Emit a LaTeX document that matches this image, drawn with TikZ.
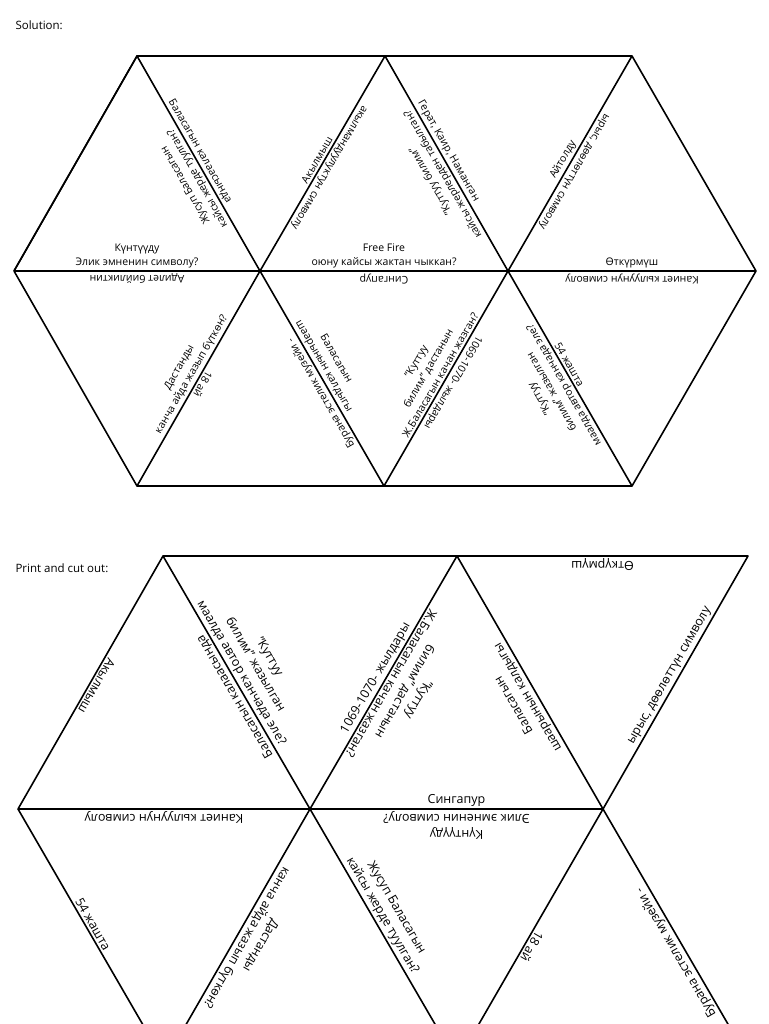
\documentclass[tikz,border=0pt]{standalone}
\usepackage{fontspec}
\setmainfont{Open Sans}
\newcommand\ftop{\fontsize{10.5}{14}\selectfont}
\newcommand\fbot{\fontsize{12.5}{16}\selectfont}
\begin{document}
\begin{tikzpicture}[x=1pt,y=1pt,
  edge/.style={line width=1.6pt, line join=round},
  lab/.style={sloped, allow upside down, above, inner sep=2.5pt, align=center},
  lt/.style={lab, font=\ftop},
  lb/.style={lab, font=\fbot},
  head/.style={anchor=west, font=\fontsize{11.5}{14}\selectfont}]
\useasboundingbox (0,-1024) rectangle (768,0);
\node[head] (h1) at (12,-25) {Solution:};
\node[head] (h2) at (12,-568) {Print and cut out:};
% ---------- top hexagon ----------
\coordinate (a1) at (137,-56); \coordinate (a2) at (385,-56); \coordinate (a3) at (632,-56);
\coordinate (m0) at (14,-271); \coordinate (m1) at (260,-271); \coordinate (m2) at (508,-271); \coordinate (m3) at (756,-271);
\coordinate (b1) at (137,-486); \coordinate (b2) at (384,-486); \coordinate (b3) at (632,-486);
\draw[edge] (a1) -- (a3) -- (m3) -- (b3) -- (b1) -- (m0) -- cycle;
\draw[edge] (m0) -- (m3);
\draw[edge] (m0) -- (a1) -- (m1) -- (a2) -- (m2) -- (a3);
\draw[edge] (b1) -- (m1) -- (b2) -- (m2) -- (b3);
% U1
\path (m0) -- (m1) node[lt, pos=0.5] {Күнтүүду\\Элик эмненин символу?};
\path (m1) -- (a1) node[lt, pos=0.45] {Жусуп Баласагын\\кайсы жерде туулган?};
% D1
\path (a1) -- (m1) node[lt, pos=0.46] {Баласагын калаасында};
\path (m1) -- (a2) node[lt, pos=0.5] {Акылмыш};
% U2
\path (m1) -- (m2) node[lt, pos=0.5] {Free Fire\\оюну кайсы жактан чыккан?};
\path (a2) -- (m1) node[lt, pos=0.5] {акылмандуулуктун символу};
\path (m2) -- (a2) node[lt, pos=0.47] {"Куттуу билим"\\кайсы жерлерден табылган?};
% D2
\path (a2) -- (m2) node[lt, pos=0.46] {Герат, Каир, Наманган};
\path (m2) -- (a3) node[lt, pos=0.5] {Айтолду};
% U3
\path (m2) -- (m3) node[lt, pos=0.5] {Өткүрмүш};
\path (a3) -- (m2) node[lt, pos=0.52] {ырыс, дөөлөттүн символу};
% L1
\path (m1) -- (m0) node[lt, pos=0.5] {Адилет бийликтин};
\path (b1) -- (m1) node[lt, pos=0.5] {Дастанды\\канча айда жазып бүткөн?};
% B1
\path (m1) -- (b1) node[lt, pos=0.51] {18 ай};
\path (b2) -- (m1) node[lt, pos=0.45] {Бурана эстелик музейи -};
% L2
\path (m1) -- (b2) node[lt, pos=0.46] {Баласагын\\шаарынын калдыгы};
\path (m2) -- (m1) node[lt, pos=0.5] {Сингапур};
\path (b2) -- (m2) node[lt, pos=0.5] {"Куттуу\\билим" дастанын\\Ж.Баласагын качан жазган?};
% B2
\path (m2) -- (b2) node[lt, pos=0.5] {1069-1070- жылдары};
\path (b3) -- (m2) node[lt, pos=0.49] {"Куттуу\\билим" жазылган\\маалда автор канчада эле?};
% L3
\path (m2) -- (b3) node[lt, pos=0.45] {54 жашта};
\path (m3) -- (m2) node[lt, pos=0.5] {Каниет кылуунун символу};
% ---------- cut-out sheet ----------
\coordinate (p1) at (163,-556); \coordinate (p2) at (457,-556); \coordinate (p3) at (748,-556);
\coordinate (q0) at (18,-809); \coordinate (q1) at (310,-809); \coordinate (q2) at (603,-809);
\coordinate (r0) at (164.5,-1062); \coordinate (r1) at (457,-1062); \coordinate (r2) at (750,-1062);
\begin{scope}
\clip (0,-1024) rectangle (768,0);
\draw[edge] (p1) -- (p3) -- (q2) -- (q0) -- cycle;
\draw[edge] (p1) -- (q1) -- (p2) -- (q2);
\draw[edge] (q0) -- (r0) -- (q1) -- (r1) -- (q2) -- (r2);
\end{scope}
% V1
\path (p1) -- (q0) node[lb, pos=0.5] {Акылмыш};
\path (q1) -- (p1) node[lb, pos=0.46] {Баласагын калаасында};
% W1
\path (p1) -- (q1) node[lb, pos=0.48] {"Куттуу\\билим" жазылган\\маалда автор канчада эле?};
\path (q1) -- (p2) node[lb, pos=0.5] {1069-1070- жылдары};
% V2
\path (q1) -- (q2) node[lb, pos=0.5] {Сингапур};
\path (q2) -- (p2) node[lb, pos=0.46] {Баласагын\\шаарынын калдыгы};
\path (p2) -- (q1) node[lb, pos=0.49] {"Куттуу\\билим" дастанын\\Ж.Баласагын качан жазган?};
% W2
\path (q2) -- (p3) node[lb, pos=0.51] {ырыс, дөөлөттүн символу};
\path (p3) -- (p2) node[lb, pos=0.5] {Өткүрмүш};
% X1
\path (q1) -- (q0) node[lb, pos=0.5] {Каниет кылуунун символу};
\path (q0) -- (r0) node[lb, pos=0.47] {54 жашта};
% Y1
\path (q1) -- (r0) node[lb, pos=0.49] {Дастанды\\канча айда жазып бүткөн?};
% X2
\path (q1) -- (r1) node[lb, pos=0.44] {Жусуп Баласагын\\кайсы жерде туулган?};
\path (q2) -- (q1) node[lb, pos=0.5] {Күнтүүду\\Элик эмненин символу?};
% Y2
\path (q2) -- (r1) node[lb, pos=0.53] {18 ай};
\path (r2) -- (q2) node[lb, pos=0.45] {Бурана эстелик музейи -};
\end{tikzpicture}
\end{document}
